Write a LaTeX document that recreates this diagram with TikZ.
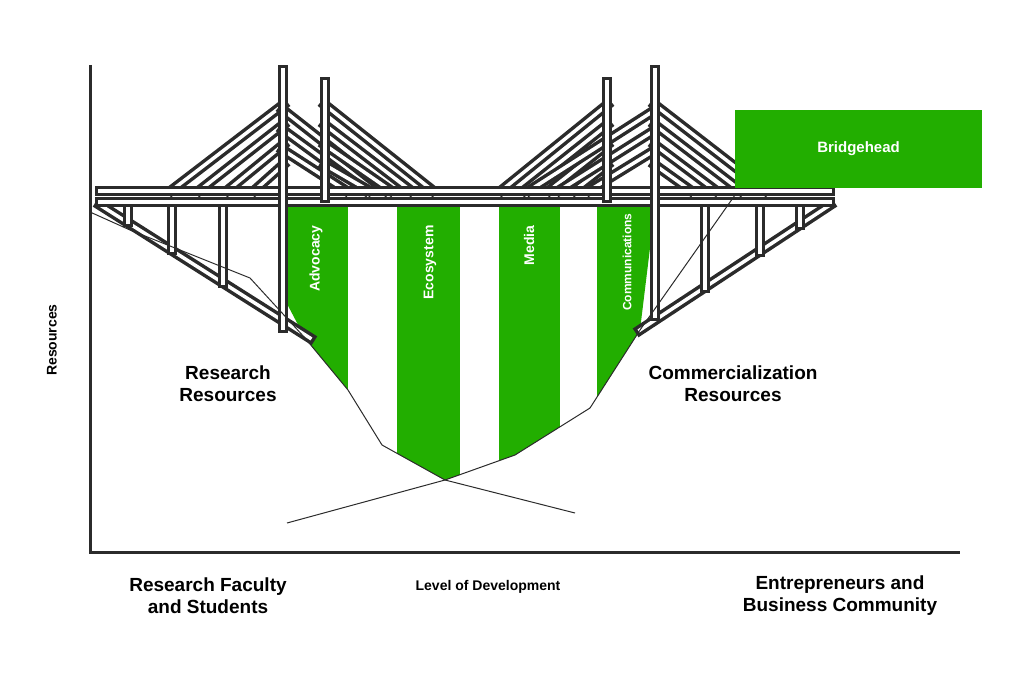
\documentclass[tikz,border=0pt]{standalone}
\usepackage{fontspec}
\setmainfont{Liberation Sans}
\definecolor{bargreen}{HTML}{22AE00}
\definecolor{steel}{HTML}{2B2B2B}
\tikzset{
  beam/.style={draw=steel, line width=3.5pt, double=white, double distance=3.5pt, line cap=rect},
  thinline/.style={draw=steel, line width=1pt},
  biglabel/.style={font=\bfseries\fontsize{19}{22}\selectfont, align=center, text=black},
  barlabel/.style={font=\bfseries\fontsize{14}{16}\selectfont, text=white, rotate=90, anchor=east},
  smalllabel/.style={font=\bfseries\fontsize{14}{16}\selectfont, text=black}
}
\begin{document}
\begin{tikzpicture}[x=1pt, y=-1pt]
    \useasboundingbox (0,0) rectangle (1024,679);

    % Green bars, clipped to the valley
    \begin{scope}
      \clip (285,207) -- (655,207) -- (640,330) -- (590,408) -- (515,455)
            -- (445,480) -- (382,445) -- (348,390) -- (305,338) -- (285,300) -- cycle;
      \foreach \xa/\xb in {285/348, 397/460, 499/560, 597/655}
        \fill[bargreen] (\xa,200) rectangle (\xb,500);
    \end{scope}
    \node[barlabel] (advocacy) at (316,222) {Advocacy};
    \node[barlabel] (ecosystem) at (430,222) {Ecosystem};
    \node[barlabel] (media) at (529,222) {Media};
    \node[barlabel, font=\bfseries\fontsize{12}{14}\selectfont] (comms) at (627,210) {Communications};

    % Left cables
    \foreach \y/\x in {105/172, 125/200, 145/228, 165/255}
      \draw[beam] (283,\y) -- (\x,190);
    \foreach \y/\x in {110/385, 130/365, 150/345}
      \draw[beam] (283,\y) -- (\x,190);
    \foreach \y/\x in {105/432, 125/410, 145/390, 165/368}
      \draw[beam] (325,\y) -- (\x,190);

    % Right cables
    \foreach \y/\x in {105/502, 125/525, 145/550, 165/575}
      \draw[beam] (607,\y) -- (\x,190);
    \foreach \y/\x in {110/530, 130/560, 150/590}
      \draw[beam] (655,\y) -- (\x,190);
    \foreach \y/\x in {105/765, 125/740, 145/715, 165/690}
      \draw[beam] (655,\y) -- (\x,190);

    % Trusses
    \draw[beam] (100,205) -- (310,338);
    \draw[beam] (830,205) -- (640,330);
    \foreach \x/\y in {128/222, 172/250, 223/283}
      \draw[beam] (\x,203) -- (\x,\y);
    \foreach \x/\y in {800/225, 760/252, 705/288}
      \draw[beam] (\x,203) -- (\x,\y);

    % Deck
    \draw[beam] (100,191) -- (830,191);
    \draw[beam] (100,202) -- (830,202);

    % Pylons
    \draw[beam] (283,70) -- (283,328);
    \draw[beam] (325,82) -- (325,198);
    \draw[beam] (607,82) -- (607,198);
    \draw[beam] (655,70) -- (655,316);

    % Resource curves
    \draw[thinline] (90,212) -- (130,230) -- (250,278) -- (305,338) -- (348,390)
                    -- (382,445) -- (445,480) -- (575,513);
    \draw[thinline] (287,523) -- (445,480) -- (515,455) -- (590,408) -- (640,330) -- (735,195);

    % Axes
    \draw[steel, line width=3pt] (90,65) -- (90,552) -- (960,552);

    % Bridgehead
    \node[fill=bargreen, minimum width=247pt, minimum height=78pt, inner sep=0pt,
          text=white, font=\bfseries\fontsize{15}{18}\selectfont] (bridgehead) at (858.5,149) {Bridgehead};

    % Labels
    \node[smalllabel, rotate=90] (resources) at (52,340) {Resources};
    \node[biglabel] (research) at (228,384) {Research\\Resources};
    \node[biglabel] (commercial) at (733,384) {Commercialization\\Resources};
    \node[biglabel] (faculty) at (208,596) {Research Faculty\\and Students};
    \node[smalllabel] (level) at (488,587) {Level of Development};
    \node[biglabel] (entrepreneurs) at (840,596) {Entrepreneurs and\\Business Community};
\end{tikzpicture}
\end{document}
